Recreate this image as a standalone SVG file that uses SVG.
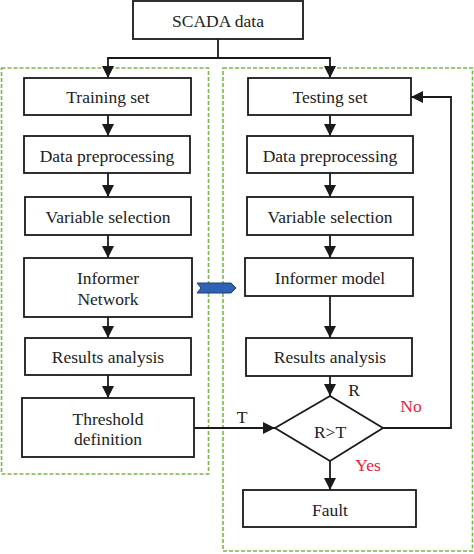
<svg xmlns="http://www.w3.org/2000/svg" width="474" height="554" viewBox="0 0 474 554">
<defs>
<style>
.box{fill:#fff;stroke:#1a1a1a;stroke-width:1.8}
.grp{fill:none;stroke:#7ab648;stroke-width:1.6;stroke-dasharray:4 2}
text{font-family:'Liberation Serif','Times New Roman',serif;font-size:17.5px;fill:#222;text-anchor:middle}
text.red{fill:#e8243c}
.con{fill:none;stroke:#1a1a1a;stroke-width:1.8}
</style>
<marker id="ah" viewBox="0 0 12 12" refX="12" refY="6" markerWidth="12" markerHeight="12" markerUnits="userSpaceOnUse" orient="auto">
<path d="M0,0 L12,6 L0,12 Z" fill="#1a1a1a"/>
</marker>
</defs>
<rect width="474" height="554" fill="#fff"/>
<g id="groups">
<rect class="grp" x="1.5" y="68" width="207" height="406"/>
<rect class="grp" x="223" y="68" width="249.5" height="483"/>
</g>
<g id="connectors">
<path class="con" d="M218 39 V58 H108 V78" marker-end="url(#ah)"/>
<path class="con" d="M218 58 H330 V78" marker-end="url(#ah)"/>
<path class="con" d="M108 115 V136" marker-end="url(#ah)"/>
<path class="con" d="M108 173 V197" marker-end="url(#ah)"/>
<path class="con" d="M108 235 V258" marker-end="url(#ah)"/>
<path class="con" d="M108 317 V338" marker-end="url(#ah)"/>
<path class="con" d="M108 375 V398" marker-end="url(#ah)"/>
<path class="con" d="M330 115 V136" marker-end="url(#ah)"/>
<path class="con" d="M330 173 V197" marker-end="url(#ah)"/>
<path class="con" d="M330 235 V258" marker-end="url(#ah)"/>
<path class="con" d="M330 296 V338" marker-end="url(#ah)"/>
<path class="con" d="M330 376 V396" marker-end="url(#ah)"/>
<path class="con" d="M330 461 V490" marker-end="url(#ah)"/>
<path class="con" d="M194 428 H275" marker-end="url(#ah)"/>
<path class="con" d="M383 428 H451 V97 H411" marker-end="url(#ah)"/>
<polygon points="197,283 231,283 236,288 231,293 197,293 201,288" fill="#2f62b3" stroke="#1d3f7a" stroke-width="1"/>
<text x="242" y="423">T</text>
<text x="354" y="396">R</text>
<text class="red" x="411" y="412">No</text>
<text class="red" x="368" y="471">Yes</text>
</g>
<g id="scada"><rect class="box" x="133" y="1" width="170" height="38"/><text x="218" y="27">SCADA data</text></g>
<g id="training"><rect class="box" x="24" y="78" width="167" height="37"/><text x="108" y="103">Training set</text></g>
<g id="prep-left"><rect class="box" x="24" y="136" width="166" height="37"/><text x="107" y="162">Data preprocessing</text></g>
<g id="var-left"><rect class="box" x="25" y="197" width="166" height="38"/><text x="108" y="223">Variable selection</text></g>
<g id="informer-net"><rect class="box" x="24" y="258" width="168" height="59"/><text x="108" y="284">Informer</text><text x="108" y="305">Network</text></g>
<g id="results-left"><rect class="box" x="25" y="338" width="166" height="37"/><text x="108" y="363">Results analysis</text></g>
<g id="threshold"><rect class="box" x="22" y="398" width="172" height="59"/><text x="108" y="425">Threshold</text><text x="108" y="445">definition</text></g>
<g id="testing"><rect class="box" x="248" y="78" width="163" height="37"/><text x="330" y="103">Testing set</text></g>
<g id="prep-right"><rect class="box" x="247" y="136" width="166" height="37"/><text x="330" y="162">Data preprocessing</text></g>
<g id="var-right"><rect class="box" x="247" y="197" width="166" height="38"/><text x="330" y="223">Variable selection</text></g>
<g id="informer-model"><rect class="box" x="245" y="258" width="168" height="38"/><text x="330" y="284">Informer model</text></g>
<g id="results-right"><rect class="box" x="246" y="338" width="166" height="38"/><text x="330" y="363">Results analysis</text></g>
<g id="decision"><polygon class="box" points="330,396 383,428 330,461 275,428"/><text x="330" y="438">R&gt;T</text></g>
<g id="fault"><rect class="box" x="243" y="490" width="173" height="37"/><text x="330" y="516">Fault</text></g>
</svg>
